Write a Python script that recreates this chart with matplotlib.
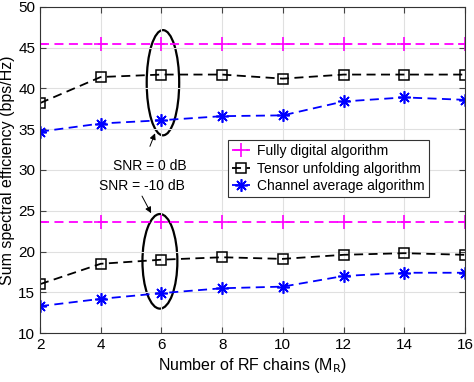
import matplotlib
matplotlib.use("Agg")
import matplotlib.pyplot as plt
from matplotlib.patches import Ellipse

plt.rcParams['font.family'] = ['Liberation Sans', 'DejaVu Sans']

rf_chains = [2, 4, 6, 8, 10, 12, 14, 16]
fully_hi = [45.5] * 8
tensor_hi = [38.2, 41.4, 41.7, 41.7, 41.2, 41.7, 41.7, 41.7]
channel_hi = [34.7, 35.7, 36.1, 36.6, 36.7, 38.4, 38.9, 38.6]
fully_lo = [23.6] * 8
tensor_lo = [16.0, 18.5, 19.0, 19.3, 19.1, 19.6, 19.8, 19.6]
channel_lo = [13.3, 14.2, 14.9, 15.5, 15.7, 17.0, 17.4, 17.4]

fig = plt.figure(figsize=(4.74, 3.82), dpi=100)
ax = fig.add_axes([0.0844, 0.128, 0.8966, 0.854])

lw = 1.3
dash = (5, 3)
star = (8, 2, 0)
ax.plot(rf_chains, fully_hi, '--', dashes=dash, color='#ff00ff', marker='+', ms=10, mew=1.2, lw=lw,
        label='Fully digital algorithm')
ax.plot(rf_chains, tensor_hi, '--', dashes=dash, color='black', marker='s', ms=6.5, mfc='none', mew=1.1, lw=lw,
        label='Tensor unfolding algorithm')
ax.plot(rf_chains, channel_hi, '--', dashes=dash, color='#0000ff', marker=star, ms=9, mew=1.2, lw=lw,
        label='Channel average algorithm')
ax.plot(rf_chains, fully_lo, '--', dashes=dash, color='#ff00ff', marker='+', ms=10, mew=1.2, lw=lw)
ax.plot(rf_chains, tensor_lo, '--', dashes=dash, color='black', marker='s', ms=6.5, mfc='none', mew=1.1, lw=lw)
ax.plot(rf_chains, channel_lo, '--', dashes=dash, color='#0000ff', marker=star, ms=9, mew=1.2, lw=lw)

ax.add_patch(Ellipse((6.05, 40.7), 1.07, 12.9, fill=False, ec='black', lw=1.6))
ax.add_patch(Ellipse((5.95, 18.8), 1.15, 11.6, fill=False, ec='black', lw=1.6))

ax.text(5.62, 30.5, 'SNR = 0 dB', ha='center', va='center', fontsize=10)
ax.text(5.36, 28.0, 'SNR = -10 dB', ha='center', va='center', fontsize=10)
arrow = dict(arrowstyle='-|>', color='black', lw=0.7, shrinkA=0, shrinkB=0, mutation_scale=9)
ax.annotate('', xy=(5.79, 34.5), xytext=(5.62, 32.9), arrowprops=arrow)
ax.annotate('', xy=(5.66, 24.7), xytext=(5.36, 26.8), arrowprops=arrow)

ax.set_xlim(2, 16)
ax.set_ylim(10, 50)
ax.set_xticks(rf_chains)
ax.set_yticks(range(10, 51, 5))
ax.grid(True, color='#e0e0e0', lw=0.8)
ax.tick_params(direction='in', top=True, right=True, labelsize=11, length=4, color='#444444')
for s in ax.spines.values():
    s.set_color('#333333')
    s.set_linewidth(0.8)

ax.set_xlabel(r'Number of RF chains (M$_{\rm R}$)', fontsize=11.5, labelpad=3)
ax.set_ylabel('Sum spectral efficiency (bps/Hz)', fontsize=11.5, labelpad=2)

leg = ax.legend(loc='upper left', bbox_to_anchor=(0.481, 0.6335), bbox_transform=fig.transFigure,
                borderaxespad=0, fontsize=10,
                handlelength=1.3, handletextpad=0.5, borderpad=0.3, labelspacing=0.25,
                fancybox=False, edgecolor='#333333', framealpha=1)
leg.get_frame().set_linewidth(0.8)

fig.savefig('out.png', dpi=100)
